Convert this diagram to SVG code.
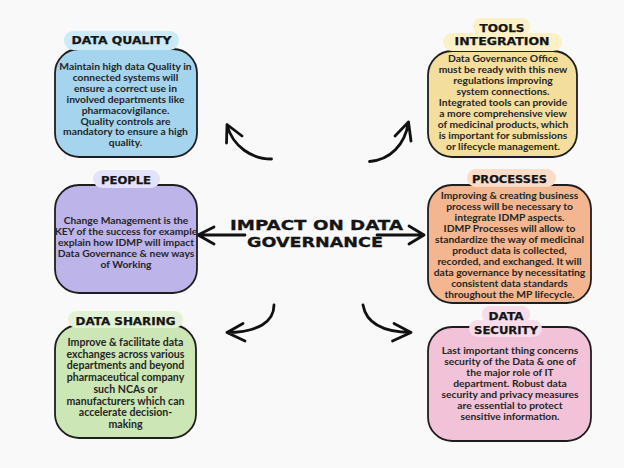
<svg xmlns="http://www.w3.org/2000/svg" width="624" height="468" viewBox="0 0 624 468">
<style>
.box{stroke:#1e1e1e;stroke-width:1.8}
.ttl{font-family:"DejaVu Sans",sans-serif;font-weight:700;font-size:10.5px;fill:#151515;text-anchor:middle;stroke:#151515;stroke-width:0.25}
.body{font-family:Lato,"Liberation Sans",sans-serif;font-weight:700;font-size:10.3px;fill:#262626;text-anchor:middle}
.sh{font-size:10.6px}
.main{font-family:"DejaVu Sans",sans-serif;font-weight:700;font-size:14px;fill:#151515;text-anchor:middle;stroke:#151515;stroke-width:0.3}
.arr{fill:none;stroke:#111;stroke-width:2.8;stroke-linecap:round;stroke-linejoin:round}
</style>
<rect width="624" height="468" fill="#f9f9f9"/>

<g id="connectors">
<path class="arr" d="M245,235 L198,235 M214,227 L198,235 L214,244"/>
<path class="arr" d="M377,235 L424,235 M409,226 L424,235 L409,244"/>
<path class="arr" d="M271.5,159 C252,159 233,147 227,125 M242,136 L227,124.5 L226.5,143"/>
<path class="arr" d="M369.5,161.5 C390,160 405,145 408.5,122 M395,136 L408.5,122 L411,141"/>
<path class="arr" d="M274,305 C274,322 258,332 227,332.5 M243,323.5 L227,332.5 L245,341"/>
<path class="arr" d="M363,305 C366,322 380,332 411,332.5 M394,323.5 L411,332.5 L392.5,341"/>
</g>

<g id="center">
<text class="main" x="316.5" y="229.5" textLength="173" lengthAdjust="spacingAndGlyphs">IMPACT ON DATA</text>
<text class="main" x="315" y="246.5" textLength="136" lengthAdjust="spacingAndGlyphs">GOVERNANCE</text>
</g>

<g id="data-quality">
<rect class="box" x="55" y="49" width="142" height="108" rx="24" fill="#a4d4ee"/>
<rect x="64" y="31" width="115" height="19" rx="9" fill="#cdeaf8"/>
<text class="ttl" x="121.5" y="44" textLength="100" lengthAdjust="spacingAndGlyphs">DATA QUALITY</text>
<text class="body" x="125.5" y="70">Maintain high data Quality in</text>
<text class="body" x="125.5" y="80.9">connected systems will</text>
<text class="body" x="125.5" y="91.8">ensure a correct use in</text>
<text class="body" x="125.5" y="102.7">involved departments like</text>
<text class="body" x="125.5" y="113.6">pharmacovigilance.</text>
<text class="body" x="125.5" y="124.5">Quality controls are</text>
<text class="body" x="125.5" y="135.4">mandatory to ensure a high</text>
<text class="body" x="125.5" y="146.3">quality.</text>
</g>

<g id="tools-integration">
<rect class="box" x="428" y="51" width="149" height="106" rx="24" fill="#f4de9e"/>
<rect x="473" y="18" width="57" height="17" rx="8" fill="#fbf0c6"/>
<rect x="443" y="33" width="119" height="18" rx="9" fill="#fbf0c6"/>
<text class="ttl" x="502" y="31.5" textLength="45" lengthAdjust="spacingAndGlyphs">TOOLS</text>
<text class="ttl" x="502" y="45" textLength="95" lengthAdjust="spacingAndGlyphs">INTEGRATION</text>
<text class="body" x="503" y="62">Data Governance Office</text>
<text class="body" x="503" y="73">must be ready with this new</text>
<text class="body" x="503" y="84">regulations improving</text>
<text class="body" x="503" y="95">system connections.</text>
<text class="body" x="503" y="106">Integrated tools can provide</text>
<text class="body" x="503" y="117">a more comprehensive view</text>
<text class="body" x="503" y="128">of medicinal products, which</text>
<text class="body" x="503" y="139">is important for submissions</text>
<text class="body" x="503" y="150">or lifecycle management.</text>
</g>

<g id="people">
<rect class="box" x="55" y="185" width="142" height="108" rx="24" fill="#bdb4ea"/>
<rect x="93" y="170" width="67" height="18" rx="9" fill="#e4e1fb"/>
<text class="ttl" x="126" y="183.5" textLength="50" lengthAdjust="spacingAndGlyphs">PEOPLE</text>
<text class="body" x="126" y="224">Change Management is the</text>
<text class="body" x="126" y="235">KEY of the success for example</text>
<text class="body" x="126" y="246">explain how IDMP will impact</text>
<text class="body" x="126" y="257">Data Governance &amp; new ways</text>
<text class="body" x="126" y="268">of Working</text>
</g>

<g id="processes">
<rect class="box" x="428" y="185" width="163" height="118" rx="24" fill="#f3b690"/>
<rect x="467" y="169" width="89" height="18" rx="9" fill="#fbdcc9"/>
<text class="ttl" x="509.5" y="182.5" textLength="75" lengthAdjust="spacingAndGlyphs">PROCESSES</text>
<text class="body" x="509.5" y="199">Improving &amp; creating business</text>
<text class="body" x="509.5" y="210">process will be necessary to</text>
<text class="body" x="509.5" y="221">integrate IDMP aspects.</text>
<text class="body" x="509.5" y="232">IDMP Processes will allow to</text>
<text class="body" x="509.5" y="243">standardize the way of medicinal</text>
<text class="body" x="509.5" y="254">product data is collected,</text>
<text class="body" x="509.5" y="265">recorded, and exchanged. It will</text>
<text class="body" x="509.5" y="276">data governance by necessitating</text>
<text class="body" x="509.5" y="287">consistent data standards</text>
<text class="body" x="509.5" y="298">throughout the MP lifecycle.</text>
</g>

<g id="data-sharing">
<rect class="box" x="55" y="325" width="141" height="113" rx="24" fill="#cde6b5"/>
<rect x="68" y="311" width="115" height="17" rx="8.5" fill="#e2f2d4"/>
<text class="ttl" x="125.5" y="324.5" textLength="100" lengthAdjust="spacingAndGlyphs">DATA SHARING</text>
<text class="body sh" x="125.5" y="346">Improve &amp; facilitate data</text>
<text class="body sh" x="125.5" y="357.7">exchanges across various</text>
<text class="body sh" x="125.5" y="369.4">departments and beyond</text>
<text class="body sh" x="125.5" y="381.1">pharmaceutical company</text>
<text class="body sh" x="125.5" y="392.8">such NCAs or</text>
<text class="body sh" x="125.5" y="404.5">manufacturers which can</text>
<text class="body sh" x="125.5" y="416.2">accelerate decision-</text>
<text class="body sh" x="125.5" y="427.9">making</text>
</g>

<g id="data-security">
<rect class="box" x="428" y="327" width="163" height="114" rx="24" fill="#f1c2d8"/>
<rect x="482" y="306" width="48" height="17" rx="8" fill="#f8dce9"/>
<rect x="469" y="320" width="73" height="17" rx="8.5" fill="#f8dce9"/>
<text class="ttl" x="506" y="320" textLength="35" lengthAdjust="spacingAndGlyphs">DATA</text>
<text class="ttl" x="506" y="333.5" textLength="64" lengthAdjust="spacingAndGlyphs">SECURITY</text>
<text class="body" x="510" y="354">Last important thing concerns</text>
<text class="body" x="510" y="365">security of the Data &amp; one of</text>
<text class="body" x="510" y="376">the major role of IT</text>
<text class="body" x="510" y="387">department. Robust data</text>
<text class="body" x="510" y="398">security and privacy measures</text>
<text class="body" x="510" y="409">are essential to protect</text>
<text class="body" x="510" y="420">sensitive information.</text>
</g>
</svg>
